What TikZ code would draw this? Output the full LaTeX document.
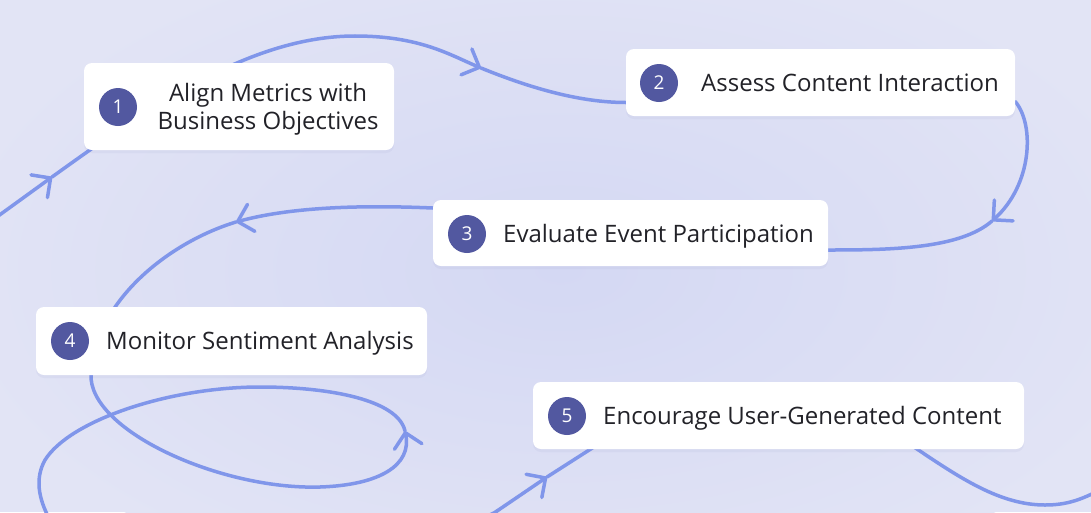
\documentclass[tikz,border=0pt]{standalone}
\usepackage{fontspec}
\setmainfont{Open Sans}
\usetikzlibrary{arrows.meta,shadows}
\definecolor{bgc}{RGB}{226,228,245}
\definecolor{bgmid}{RGB}{212,216,243}
\definecolor{linec}{RGB}{128,150,234}
\definecolor{numc}{RGB}{82,88,160}
\definecolor{txtc}{RGB}{34,34,40}
\pgfdeclarelayer{bg}
\pgfdeclarelayer{lines}
\pgfsetlayers{bg,lines,main}
\begin{document}
\begin{tikzpicture}[x=1pt,y=-1pt,
  card/.style={fill=white, rounded corners=8pt, inner sep=0pt,
    drop shadow={shadow xshift=0pt,shadow yshift=-3pt,opacity=0.05,fill=numc}},
  badge/.style={circle, fill=numc, minimum size=38pt, inner sep=0pt, text=white,
    font=\fontsize{19}{19}\selectfont},
  lbl/.style={anchor=base west, text=txtc, font=\fontsize{24}{28}\selectfont, inner sep=0pt},
  flow/.style={draw=linec, line width=3.5pt, line cap=round},
  tipped/.style={-{Straight Barb[length=14pt,width=28pt,line width=3.5pt,round]}}
]
\useasboundingbox (0,0) rectangle (1091,512);
\clip (0,0) rectangle (1091,512);
\begin{pgfonlayer}{bg}
  \fill[bgc] (0,0) rectangle (1091,512);
  \shade[inner color=bgmid, outer color=bgc] (560,270) ellipse (620 and 340);
\end{pgfonlayer}

% cards
\node[card, minimum width=310pt, minimum height=87pt] (b1) at (239,106.5) {};
\node[card, minimum width=389pt, minimum height=67pt] (b2) at (820.5,82.5) {};
\node[card, minimum width=395pt, minimum height=66pt] (b3) at (630.5,233) {};
\node[card, minimum width=391pt, minimum height=68pt] (b4) at (231.5,341) {};
\node[card, minimum width=491pt, minimum height=67pt] (b5) at (778.5,415.5) {};

\node[badge] (n1) at (118,107) {1};
\node[badge] (n2) at (659,83) {2};
\node[badge] (n3) at (467,234) {3};
\node[badge] (n4) at (70,341) {4};
\node[badge] (n5) at (567,416) {5};

\node[lbl, anchor=center, align=center] (t1) at (268,109.5) {Align Metrics with\\Business Objectives};
\node[lbl] (t2) at (701,91) {Assess Content Interaction};
\node[lbl] (t3) at (503,242) {Evaluate Event Participation};
\node[lbl] (t4) at (106,349.5) {Monitor Sentiment Analysis};
\node[lbl] (t5) at (603,424) {Encourage User-Generated Content};

% connector coordinates
\coordinate (a0) at (-6,219);
\coordinate (a1) at (52,177);
\coordinate (a2) at (355,36);
\coordinate (a3) at (481,68);
\coordinate (bt) at (992,221);
\coordinate (c1) at (236,222);
\coordinate (c2) at (91,374);
\coordinate (c3) at (320,487);
\coordinate (c4) at (405,431);
\coordinate (c5) at (260,387);
\coordinate (c6) at (45,460);
\coordinate (c7) at (50,520);
\coordinate (c8) at (497,511);
\coordinate (c9) at (547,477);
\coordinate (d1) at (1045,505);
\coordinate (d2) at (1100,490);

\begin{pgfonlayer}{lines}
  % into step 1 and on to step 2
  \draw[flow,tipped] (a0) -- (a1);
  \draw[flow] (a1) .. controls (148,108) and (250,36) .. (a2);
  \draw[flow,tipped] (a2) .. controls (420,36) and (450,55) .. (a3);
  \draw[flow] (a3) .. controls (530,88) and (580,102.5) .. ([yshift=-20pt]b2.west);
  % step 2 to step 3
  \draw[flow,tipped] ([yshift=-19pt]b2.east) .. controls (1035,125) and (1032,185) .. (bt);
  \draw[flow] (bt) .. controls (960,249) and (890,250) .. ([yshift=-17pt]b3.east);
  % step 3 to step 4
  \draw[flow,tipped] ([yshift=25pt]b3.west) .. controls (340,204) and (280,210) .. (c1);
  \draw[flow] (c1) .. controls (170,242) and (95,300) .. (c2);
  % step 4 loop to step 5
  \draw[flow,tipped] (c2) .. controls (88,430) and (220,490) .. (c3) .. controls (380,485) and (412,465) .. (c4);
  \draw[flow] (c4) .. controls (398,400) and (330,387) .. (c5) .. controls (170,387) and (70,420) .. (c6)
     .. controls (35,478) and (38,498) .. (c7) .. controls (70,555) and (450,545) .. (c8);
  \draw[flow,tipped] (c8) -- (c9);
  \draw[flow] (c9) -- ([xshift=67pt,yshift=6pt]b5.south west);
  % out of step 5
  \draw[flow] ([xshift=380pt,yshift=3pt]b5.south west) .. controls (960,478) and (1000,505) .. (d1)
     .. controls (1068,505) and (1082,499) .. (d2);
\end{pgfonlayer}
\end{tikzpicture}
\end{document}
